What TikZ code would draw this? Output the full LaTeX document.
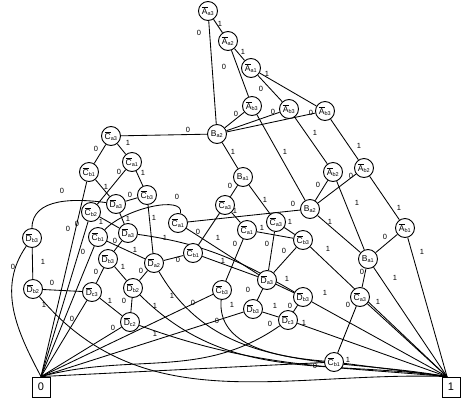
\documentclass[tikz,border=0pt]{standalone}
\usepackage{fontspec}
\setmainfont{Liberation Sans}
\usetikzlibrary{backgrounds}
\newcommand\nb[2]{$\overline{\mbox{#1}}_{\mbox{\fontsize{5.5}{5.5}\selectfont#2}}$}
\newcommand\nn[2]{$\mbox{#1}_{\mbox{\fontsize{5.5}{5.5}\selectfont#2}}$}
\newcommand\E[5][]{\draw (#2) to[#1] (#3) (#4) node[lbl]{#5};}
\begin{document}
\begin{tikzpicture}[x=1pt,y=-1pt,
  vx/.style={circle,draw,line width=0.9pt,fill=white,minimum size=19pt,inner sep=0pt,font=\fontsize{8.5}{9}\selectfont},
  term/.style={draw,line width=0.9pt,fill=white,minimum width=18pt,minimum height=20pt,inner sep=0pt,font=\fontsize{11}{11}\selectfont},
  lbl/.style={font=\fontsize{7.5}{7.5}\selectfont,inner sep=0pt},
  every path/.style={line width=0.85pt}]
\useasboundingbox (0,0) rectangle (474,413);
% top A / B part
\node[vx] (a1) at (208,11) {\nb{A}{a3}};
\node[vx] (a2) at (228,41) {\nb{A}{a2}};
\node[vx] (a3) at (251,68) {\nb{A}{a1}};
\node[vx] (a4) at (252,106) {\nb{A}{b3}};
\node[vx] (a5) at (289,109) {\nb{A}{b3}};
\node[vx] (a6) at (325,111) {\nb{A}{b3}};
\node[vx] (b1) at (217,134) {\nn{B}{a2}};
\node[vx] (a7) at (333,172) {\nb{A}{b2}};
\node[vx] (a8) at (364,168) {\nb{A}{b2}};
\node[vx] (a9) at (405,228) {\nb{A}{b1}};
\node[vx] (b2) at (243,177) {\nn{B}{a1}};
\node[vx] (b3) at (310,209) {\nn{B}{a2}};
\node[vx] (b4) at (368,259) {\nn{B}{a1}};
% left part
\node[vx] (c1) at (111,136) {\nb{C}{a3}};
\node[vx] (c2) at (132,162) {\nb{C}{a1}};
\node[vx] (c3) at (89,172) {\nb{C}{b1}};
\node[vx] (c4) at (147,195) {\nb{C}{b3}};
\node[vx] (d1) at (116,204) {\nb{D}{a3}};
\node[vx] (c5) at (91,212) {\nb{C}{b2}};
\node[vx] (d2) at (32,238) {\nb{D}{b3}};
\node[vx] (c6) at (98,237) {\nb{C}{b1}};
\node[vx] (d3) at (128,233) {\nb{D}{a3}};
\node[vx] (d4) at (108,259) {\nb{D}{b3}};
\node[vx] (d5) at (154,263) {\nb{D}{a2}};
\node[vx] (d6) at (33,289) {\nb{D}{b2}};
\node[vx] (d7) at (92,292) {\nb{D}{c3}};
\node[vx] (d8) at (133,288) {\nb{D}{b2}};
\node[vx] (d9) at (130,322) {\nb{D}{c2}};
% middle part
\node[vx] (c7) at (225,205) {\nb{C}{a3}};
\node[vx] (c8) at (178,223) {\nb{C}{a1}};
\node[vx] (c9) at (247,230) {\nb{C}{a1}};
\node[vx] (c10) at (276,222) {\nb{C}{a3}};
\node[vx] (c11) at (303,240) {\nb{C}{b3}};
\node[vx] (c12) at (193,253) {\nb{C}{b1}};
\node[vx] (d10) at (267,280) {\nb{D}{a3}};
\node[vx] (c13) at (222,290) {\nb{C}{b3}};
\node[vx] (d11) at (303,297) {\nb{D}{b3}};
\node[vx] (d12) at (253,309) {\nb{D}{b3}};
\node[vx] (d13) at (288,320) {\nb{D}{c3}};
\node[vx] (c14) at (360,297) {\nb{C}{a3}};
\node[vx] (c15) at (334,362) {\nb{C}{b1}};
% terminals
\node[term] (T0) at (41,387) {0};
\node[term] (T1) at (451,387) {1};
\coordinate (t0) at (T0.north);
\coordinate (t1) at ([xshift=-4pt]T1.north);
\begin{pgfonlayer}{background}
\E{a1}{a2}{220,24}{1}
\E{a1}{b1}{199,33}{0}
\E{a2}{a3}{243,52}{1}
\E{a2}{a4}{224,67}{0}
\E{a3}{a6}{267,74}{1}
\E{a3}{a5}{261,89}{0}
\E{a4}{b1}{236,114}{0}
\E{a5}{b1}{273,112}{0}
\E{a6}{b1}{311,113}{0}
\E{a4}{b3}{285,152}{1}
\E{a5}{a7}{315,133}{1}
\E{a6}{a8}{359,146}{1}
\E{b1}{c1}{188,130}{0}
\E{b1}{b2}{233,152}{1}
\E{a7}{b3}{318,185}{0}
\E{a7}{b4}{357,203}{1}
\E{a8}{b3}{351,176}{0}
\E{a8}{a9}{399,208}{1}
\E{a9}{b4}{385,237}{0}
\E{a9}{t1}{422,252}{1}
\E{b2}{c7}{230,186}{0}
\E{b2}{c10}{265,200}{1}
\E{b3}{c8}{293,204}{0}
\E{b3}{b4}{330,222}{1}
\E{b4}{c14}{362,272}{0}
\E{b4}{t1}{395,278}{1}
\E{c14}{c15}{348,305}{0}
\E{c14}{t1}{378,302}{1}
\E{c15}{t0}{315,366}{0}
\E{c15}{t1}{348,360}{1}
% left
\E{c1}{c3}{96,149}{0}
\E{c1}{c2}{128,143}{1}
\E{c3}{d1}{106,187}{1}
\E{c3}{t0}{77,224}{0}
\E{c2}{c5}{119,172}{0}
\E{c2}{c4}{143,173}{1}
\E{c4}{d1}{130,195}{0}
\E{c4}{d5}{154,218}{1}
\E[out=172,in=90]{d1}{d2}{62,191}{0}
\E{d1}{d3}{128,219}{1}
\E{c5}{t0}{68,229}{0}
\E{c5}{d3}{101,222}{1}
\E{d2}{d6}{43,262}{1}
\E[out=235,in=118]{d2}{t0}{13,267}{0}
\E{c6}{t0}{83,252}{0}
\E{c6}{d5}{135,250}{1}
\E{d3}{d4}{115,241}{0}
\E[out=-8,in=150]{d3}{d11}{165,238}{1}
\E{d4}{d7}{96,272}{0}
\E{d4}{d8}{123,267}{1}
\E{d5}{d8}{141,271}{0}
\E[out=-60,in=170]{d5}{t1}{172,296}{1}
\E{d6}{d7}{52,283}{0}
\E[out=-50,in=178]{d6}{t1}{44,305}{1}
\E{d7}{t0}{72,319}{0}
\E{d7}{d9}{110,301}{1}
\E{d8}{d9}{124,301}{0}
\E[out=-45,in=172]{d8}{t1}{155,306}{1}
\E{d9}{t0}{113,328}{0}
\E[out=-20,in=175]{d9}{t1}{155,334}{1}
% middle
\E{c7}{c12}{198,232}{0}
\E{c7}{c9}{235,211}{1}
\draw (c8) .. controls (185,195) and (125,208) .. (c6) (177,197) node[lbl]{0};
\E{c8}{d10}{218,238}{1}
\E{c9}{c13}{235,244}{0}
\E{c9}{c11}{262,228}{1}
\E{c10}{d10}{267,244}{0}
\E{c10}{c11}{290,222}{1}
\E{c11}{d10}{284,251}{0}
\E{c11}{t1}{328,249}{1}
\E{c12}{d5}{178,260}{0}
\E{c12}{d10}{223,261}{1}
\E{c13}{t0}{193,303}{0}
\E[out=-95,in=175]{c13}{c15}{232,305}{1}
\E{d10}{d12}{248,290}{0}
\E{d10}{d11}{287,279}{1}
\E{d11}{d13}{290,306}{0}
\E{d11}{t1}{325,293}{1}
\E{d12}{t0}{217,321}{0}
\E{d12}{d13}{275,306}{1}
\E[out=215,in=15]{d13}{t0}{270,324}{0}
\E{d13}{t1}{304,323}{1}
\end{pgfonlayer}
\end{tikzpicture}
\end{document}
